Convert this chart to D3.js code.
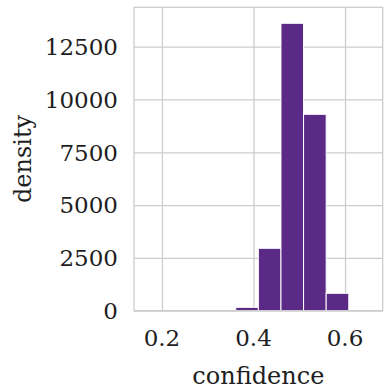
<!DOCTYPE html>
<html>
<head>
<meta charset="utf-8">
<script src="https://cdn.jsdelivr.net/npm/d3@7"></script>
<style>
  body { margin: 0; background: #fff; }
  text { font-family: "DejaVu Serif", serif; fill: #1e1e1e; }
</style>
</head>
<body>
<div id="chart"></div>
<script>
// histogram bins
var binEdges = [0.1636, 0.2130, 0.2624, 0.3118, 0.3612, 0.4106, 0.4600, 0.5094, 0.5588, 0.6082, 0.6576];
var density = [0, 0, 0, 0, 160, 2955, 13608, 9299, 824, 0];
var xTicks = [0.2, 0.4, 0.6];
var yTicks = [0, 2500, 5000, 7500, 10000, 12500];

var margin = {top: 7.3, right: 9.3, bottom: 79.3, left: 134},
width = 392 - margin.left - margin.right,
height = 390 - margin.top - margin.bottom;

var svg = d3.select("#chart")
.append("svg")
.attr("width", 392)
.attr("height", 390)
.append("g")
.attr("transform", "translate(" + margin.left + "," + margin.top + ")");

var x = d3.scaleLinear()
.domain([0.1389, 0.6823])
.range([0, width]);

var y = d3.scaleLinear()
.domain([0, 14365])
.range([height, 0]);

// grid
svg.append("g")
.call(d3.axisBottom(x).tickValues(xTicks).tickSize(-height).tickFormat(""))
.attr("transform", "translate(0," + height + ")")
.call(function(g) { g.select(".domain").remove(); })
.selectAll(".tick line").attr("stroke", "#cccccc").attr("stroke-width", 1.25);

svg.append("g")
.call(d3.axisLeft(y).tickValues(yTicks).tickSize(-width).tickFormat(""))
.call(function(g) { g.select(".domain").remove(); })
.selectAll(".tick line").attr("stroke", "#cccccc").attr("stroke-width", 1.25);

// bars
var bins = density.map(function(d, i) { return {x0: binEdges[i], x1: binEdges[i + 1], v: d}; });
svg.selectAll(".bar")
.data(bins.filter(function(d) { return d.v > 0; }))
.enter()
.append("rect")
.attr("class", "bar")
.attr("x", function(d) { return x(d.x0); })
.attr("width", function(d) { return x(d.x1) - x(d.x0); })
.attr("y", function(d) { return y(d.v); })
.attr("height", function(d) { return y(0) - y(d.v); })
.attr("fill", "#5b2a86")
.attr("stroke", "#ffffff")
.attr("stroke-width", 1);

// frame
svg.append("rect")
.attr("x", 0).attr("y", 0)
.attr("width", width).attr("height", height)
.attr("fill", "none")
.attr("stroke", "#cccccc")
.attr("stroke-width", 1.25);

// tick labels
svg.selectAll(".ylab")
.data(yTicks)
.enter()
.append("text")
.attr("text-anchor", "end")
.attr("x", -16)
.attr("y", function(d) { return y(d); })
.attr("dy", "0.36em")
.style("font-size", "23px")
.text(function(d) { return d; });

svg.selectAll(".xlab")
.data(xTicks)
.enter()
.append("text")
.attr("text-anchor", "middle")
.attr("x", function(d) { return x(d); })
.attr("y", height + 35)
.style("font-size", "23px")
.text(function(d) { return d.toFixed(1); });

// axis titles
svg.append("text")
.attr("text-anchor", "middle")
.attr("x", width / 2)
.attr("y", height + 73.5)
.style("font-size", "24px")
.text("confidence");

svg.append("text")
.attr("text-anchor", "middle")
.attr("transform", "translate(" + (31 - margin.left) + "," + (height / 2) + ") rotate(-90)")
.style("font-size", "24px")
.text("density");
</script>
</body>
</html>
